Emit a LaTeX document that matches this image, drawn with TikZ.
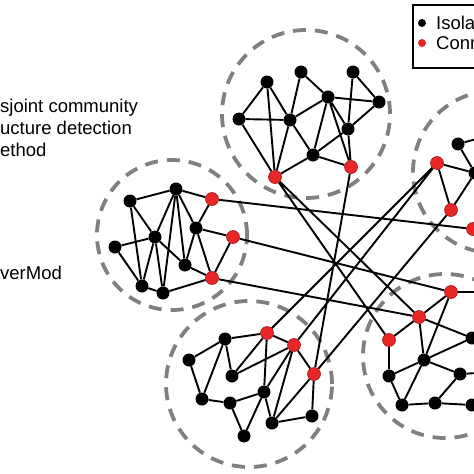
\documentclass[tikz,border=0pt]{standalone}
\usepackage{fontspec}
\setmainfont{Liberation Sans}
\pgfdeclarelayer{bg}
\pgfdeclarelayer{edges}
\pgfsetlayers{bg,edges,main}
\definecolor{nodered}{RGB}{232,38,38}
\definecolor{nodeedge}{RGB}{160,25,25}
\definecolor{dashgray}{RGB}{128,128,128}
\begin{document}
\begin{tikzpicture}[x=1pt,y=-1pt,
  blk/.style={circle,fill=black,inner sep=0pt,minimum size=13pt},
  rd/.style={circle,fill=nodered,draw=nodeedge,line width=0.6pt,inner sep=0pt,minimum size=13pt},
  ed/.style={line width=1.9pt},
  grp/.style={draw=dashgray,line width=3.8pt,dash pattern=on 13pt off 9pt},
  lbl/.style={font=\fontsize{18.5}{21}\selectfont,anchor=base west,inner sep=0pt},
  ldot/.style={circle,inner sep=0pt,minimum size=8pt}]
\useasboundingbox (0,0) rectangle (474,474);
\clip (0,0) rectangle (474,474);

% texts
\node[lbl] (t1) at (0,112) {sjoint community};
\node[lbl] (t2) at (0,134) {ucture detection};
\node[lbl] (t3) at (0,156) {ethod};
\node[lbl] (t4) at (0,279) {verMod};

% legend
\draw[line width=1.2pt] (413,5) rectangle (500,68);
\node[ldot,fill=black] (lk) at (422,23) {};
\node[ldot,fill=nodered] (lr) at (422,43) {};
\node[lbl] (lt1) at (436,29.5) {Isolated nodes};
\node[lbl] (lt2) at (436,49.5) {Connecting nodes};

% community circles
\begin{pgfonlayer}{bg}
\fill[white] (0,0) rectangle (474,474);
\draw[grp] (306,114) circle[radius=84pt];
\draw[grp] (172,235) circle[radius=75pt];
\draw[grp] (249,384) circle[radius=83pt];
\draw[grp] (445,356) circle[radius=82pt];
\draw[grp] (494,172) circle[radius=81pt];
\end{pgfonlayer}

% top cluster
\node[blk] (a1) at (267,82) {};
\node[blk] (a2) at (301,72) {};
\node[blk] (a3) at (353,72) {};
\node[blk] (a4) at (328,97) {};
\node[blk] (a5) at (379,102) {};
\node[blk] (a6) at (239,119) {};
\node[blk] (a7) at (290,120) {};
\node[blk] (a8) at (348,129) {};
\node[blk] (a9) at (313,155) {};
\node[rd]  (a10) at (275,177) {};
\node[rd]  (a11) at (351,167) {};

% left cluster
\node[blk] (b1) at (130,201) {};
\node[blk] (b2) at (176,189) {};
\node[rd]  (b3) at (212,199) {};
\node[blk] (b4) at (196,228) {};
\node[blk] (b5) at (155,237) {};
\node[rd]  (b6) at (233,237) {};
\node[blk] (b7) at (115,247) {};
\node[blk] (b8) at (185,265) {};
\node[rd]  (b9) at (212,278) {};
\node[blk] (b10) at (142,286) {};
\node[blk] (b11) at (163,293) {};

% bottom-left cluster
\node[rd]  (c1) at (267,333) {};
\node[rd]  (c2) at (294,345) {};
\node[blk] (c3) at (225,339) {};
\node[blk] (c4) at (189,360) {};
\node[blk] (c5) at (232,376) {};
\node[rd]  (c6) at (314,374) {};
\node[blk] (c7) at (264,392) {};
\node[blk] (c8) at (202,399) {};
\node[blk] (c9) at (230,403) {};
\node[blk] (c10) at (312,416) {};
\node[blk] (c11) at (272,423) {};
\node[blk] (c12) at (244,436) {};

% bottom-right cluster
\node[rd]  (d1) at (451,292) {};
\node[rd]  (d2) at (419,317) {};
\node[rd]  (d3) at (389,340) {};
\node[blk] (d4) at (472,338) {};
\node[blk] (d5) at (424,360) {};
\node[blk] (d6) at (389,376) {};
\node[blk] (d7) at (460,374) {};
\node[blk] (d8) at (402,405) {};
\node[blk] (d9) at (435,403) {};
\node[blk] (d10) at (472,405) {};

% right cluster
\node[blk] (e1) at (458,144) {};
\node[rd]  (e2) at (437,163) {};
\node[blk] (e3) at (475,173) {};
\node[rd]  (e4) at (451,210) {};
\node[rd]  (e5) at (473,229) {};

% free ends beyond the right border
\coordinate (e1r) at (495,134);
\coordinate (d1r) at (495,292);
\coordinate (d4r) at (495,335);
\coordinate (d7r) at (495,372);
\coordinate (d10r) at (495,405);

\begin{pgfonlayer}{edges}
% top cluster edges
\draw[ed] (a1)--(a6) (a1)--(a7) (a1)--(a10) (a6)--(a7) (a6)--(a10) (a7)--(a10)
  (a2)--(a7) (a2)--(a4) (a4)--(a7) (a4)--(a5) (a3)--(a5) (a3)--(a8) (a5)--(a8)
  (a4)--(a9) (a4)--(a8) (a4)--(a11) (a7)--(a9) (a8)--(a9) (a9)--(a10) (a9)--(a11)
  (a8)--(a11);
% left cluster edges
\draw[ed] (b1)--(b2) (b1)--(b5) (b1)--(b10) (b2)--(b3) (b2)--(b5) (b2)--(b4)
  (b2)--(b8) (b2)--(b11) (b3)--(b4) (b4)--(b6) (b4)--(b8) (b4)--(b9) (b5)--(b7)
  (b5)--(b10) (b5)--(b11) (b5)--(b8) (b7)--(b10) (b8)--(b9) (b10)--(b11)
  (b11)--(b9) (b6)--(b9);
% bottom-left cluster edges
\draw[ed] (c3)--(c1) (c3)--(c4) (c3)--(c8) (c3)--(c5) (c4)--(c8) (c5)--(c1)
  (c5)--(c2) (c8)--(c9) (c9)--(c7) (c9)--(c12) (c12)--(c7) (c1)--(c7) (c1)--(c2)
  (c2)--(c7) (c2)--(c11) (c2)--(c6) (c7)--(c11) (c11)--(c10) (c10)--(c6) (c6)--(c11);
% bottom-right cluster edges
\draw[ed] (d1)--(d2) (d1)--(d5) (d2)--(d3) (d2)--(d5) (d2)--(d4) (d3)--(d6)
  (d4)--(d5) (d5)--(d6) (d5)--(d7) (d5)--(d8) (d6)--(d8) (d7)--(d9) (d8)--(d9)
  (d9)--(d10) (d1)--(d1r) (d4)--(d4r) (d7)--(d7r) (d10)--(d10r);
% right cluster edges
\draw[ed] (e1)--(e3) (e2)--(e3) (e2)--(e4) (e4)--(e3) (e1)--(e1r);
% links between communities
\draw[ed] (a10)--(d2) (a10)--(d3) (a11)--(c6) (b3)--(e5) (b6)--(d1) (b9)--(d2)
  (e2)--(c1) (e2)--(c2) (e4)--(c6);
\end{pgfonlayer}
\end{tikzpicture}
\end{document}
